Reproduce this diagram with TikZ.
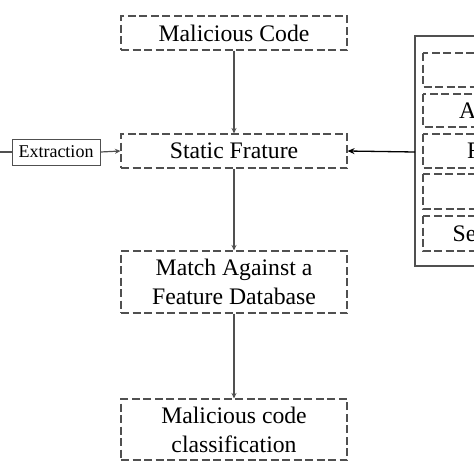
\documentclass[tikz,border=0pt]{standalone}
\usepackage{fontspec}
\setmainfont{Liberation Serif}
\usetikzlibrary{arrows.meta}
\definecolor{linegray}{RGB}{80,80,80}
\begin{document}
\begin{tikzpicture}[x=1pt,y=-1pt,
  dbox/.style={draw=linegray, line width=1.1pt, dash pattern=on 8pt off 3.5pt, minimum width=226pt, inner sep=0pt, align=center, font=\fontsize{23.7}{29}\selectfont},
  sbox/.style={draw=linegray, line width=1pt, minimum width=88pt, minimum height=26pt, inner sep=0pt, font=\fontsize{18}{21}\selectfont},
  ibox/.style={draw=linegray, line width=1.1pt, dash pattern=on 8pt off 3.5pt},
  conn/.style={draw=linegray, line width=1.2pt, -{Stealth[length=5.5pt,width=5pt]}},
  rtxt/.style={anchor=base west, inner sep=0pt, font=\fontsize{23.7}{29}\selectfont}
]
\useasboundingbox (0,0) rectangle (474,474);
\begin{scope}
\clip (0,0) rectangle (474,474);
\node[dbox, minimum height=34pt] (mc) at (234,33) {Malicious Code};
\node[dbox, minimum height=34pt] (sf) at (234,151) {Static Frature};
\node[dbox, minimum height=62pt] (ma) at (234,282) {Match Against a\\Feature Database};
\node[dbox, minimum height=61pt] (cl) at (234,429.5) {Malicious code\\classification};
\node[sbox] (ex) at (56,152) {Extraction};
\coordinate (lft) at (0,152);
% right panel
\draw[linegray, line width=1.1pt] (415,36) rectangle (490,266);
\coordinate (pl) at (415,152);
\draw[ibox] (423,53) rectangle (495,87);
\draw[ibox] (423,94) rectangle (495,127);
\draw[ibox] (423,134) rectangle (495,168);
\draw[ibox] (423,174) rectangle (495,209);
\draw[ibox] (423,216) rectangle (495,251);
\node[rtxt] (ta) at (459,118.5) {A};
\node[rtxt] (tf) at (467,158.5) {F};
\node[rtxt] (ts) at (452.5,241) {Se};
% connectors
\draw[linegray, line width=1.1pt] (lft) -- (ex.west);
\draw[conn] (ex.east) -- (sf.west);
\draw[conn] (mc.south) -- (sf.north);
\draw[conn] (sf.south) -- (ma.north);
\draw[conn] (ma.south) -- (cl.north);
\draw[black, line width=1.3pt, -{Stealth[length=7pt,width=6pt]}] (pl) -- (sf.east);
\end{scope}
\end{tikzpicture}
\end{document}
